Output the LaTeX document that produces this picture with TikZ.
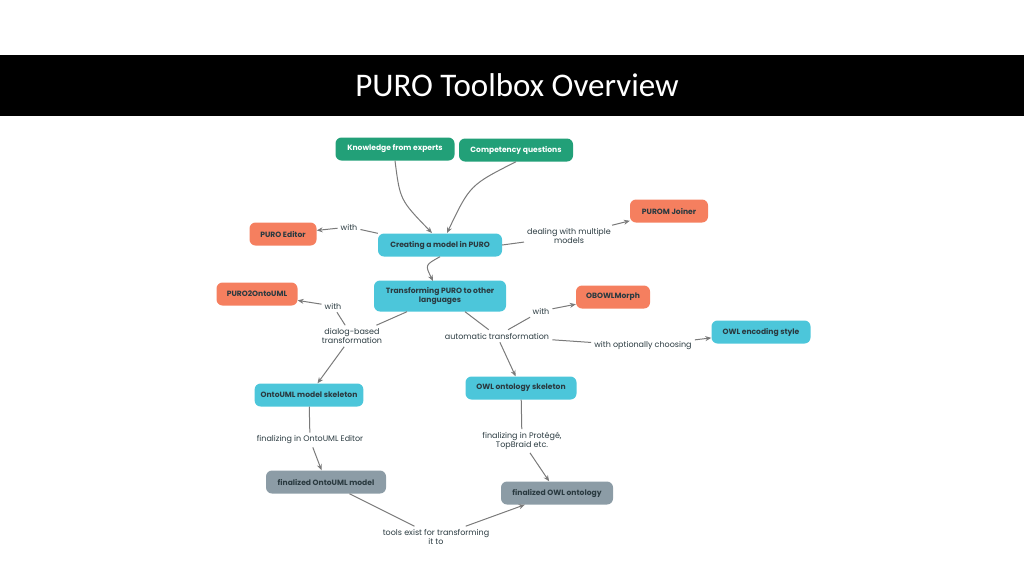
\documentclass[tikz,border=0pt]{standalone}
\usepackage{fontspec}
\setmainfont{Poppins}
\newfontfamily\titlefont{Carlito}
\usetikzlibrary{arrows.meta}
\definecolor{cgreen}{HTML}{22A078}
\definecolor{corange}{HTML}{F57F5F}
\definecolor{ccyan}{HTML}{4CC6DA}
\definecolor{cgray}{HTML}{8C9CA6}
\definecolor{cline}{HTML}{7A7A7A}
\definecolor{ctext}{HTML}{2A3A40}
\begin{document}
\begin{tikzpicture}[x=1pt,y=-1pt,
 box/.style={rounded corners=6pt,minimum height=23pt,inner xsep=6pt,font=\fontsize{7.6}{9}\selectfont\bfseries,text=ctext,align=center},
 gbox/.style={box,fill=cgreen,text=white},
 obox/.style={box,fill=corange},
 cbox/.style={box,fill=ccyan},
 ybox/.style={box,fill=cgray},
 lab/.style={font=\fontsize{8}{9}\selectfont,text=ctext,align=center,inner sep=3pt},
 ln/.style={draw=cline,line width=1pt},
 ar/.style={ln,-{Stealth[length=6pt,width=5pt]}}]
\useasboundingbox (0,0) rectangle (1024,576);
\fill[black] (0,55) rectangle (1024,116);
\node[text=white,font=\titlefont\fontsize{33}{38}\selectfont] (title) at (517,85) {PURO Toolbox Overview};
\node[gbox,minimum width=119pt] (ke) at (395,149) {Knowledge from experts};
\node[gbox,minimum width=114pt] (cq) at (516,150) {Competency questions};
\node[obox,minimum width=67pt] (pe) at (283,234) {PURO Editor};
\node[cbox,minimum width=124pt] (cm) at (440,245) {Creating a model in PURO};
\node[obox,minimum width=78pt] (pj) at (669,211) {PUROM Joiner};
\node[cbox,minimum width=132pt,minimum height=31pt] (tp) at (440,296) {Transforming PURO to other\\languages};
\node[obox,minimum width=81pt] (po) at (257,294) {PURO2OntoUML};
\node[obox,minimum width=74pt] (ob) at (613,297) {OBOWLMorph};
\node[cbox,minimum width=99pt] (oe) at (761,332) {OWL encoding style};
\node[cbox,minimum width=92pt] (os) at (309,395) {OntoUML model skeleton};
\node[cbox,minimum width=111pt] (ws) at (521,388) {OWL ontology skeleton};
\node[ybox,minimum width=120pt] (fo) at (326,482) {finalized OntoUML model};
\node[ybox,minimum width=112pt] (fw) at (557,493) {finalized OWL ontology};
\node[lab] (l1) at (349,227) {with};
\node[lab] (l2) at (569,236) {dealing with multiple\\models};
\node[lab] (l3) at (333,306) {with};
\node[lab] (l4) at (352,336) {dialog-based\\transformation};
\node[lab] (l5) at (497,336) {automatic transformation};
\node[lab] (l6) at (541,311) {with};
\node[lab] (l7) at (643,346) {with optionally choosing};
\node[lab] (l8) at (310,440) {finalizing in OntoUML Editor};
\node[lab] (l9) at (522,441) {finalizing in Protégé,\\TopBraid etc.};
\node[lab] (l10) at (436,537) {tools exist for transforming\\it to};
\draw[ar] (ke.south) .. controls (400,200) .. (432,233);
\draw[ar] (cq.south) .. controls (470,185) .. (447,233);
\draw[ln] (cm.north west) -- (l1);
\draw[ar] (l1) -- (pe);
\draw[ln] (cm.east) -- (l2);
\draw[ar] (l2) -- (pj);
\draw[ar] (cm.south) .. controls (425,265) .. (433,281);
\draw[ln] (tp.south) ++(-33,0) -- (l4);
\draw[ar] (l4) -- (os);
\draw[ln] (l4) -- (l3);
\draw[ar] (l3) -- (po);
\draw[ln] (tp.south) ++(25,0) -- (l5);
\draw[ln] (l5) -- (l6);
\draw[ar] (l6) -- (ob);
\draw[ln] (l5) -- (l7);
\draw[ar] (l7) -- (oe);
\draw[ar] (l5) -- (ws);
\draw[ln] (os) -- (l8);
\draw[ar] (l8) -- (fo);
\draw[ln] (ws) -- (l9);
\draw[ar] (l9) -- (fw);
\draw[ln] (fo) -- (l10);
\draw[ar] (l10) -- (fw);
\end{tikzpicture}
\end{document}
